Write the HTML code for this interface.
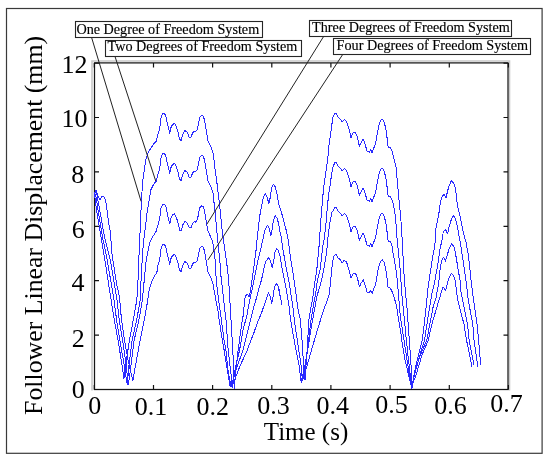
<!DOCTYPE html>
<html><head><meta charset="utf-8"><title>Follower Linear Displacement</title>
<style>
html,body{margin:0;padding:0;background:#fff;}
svg{display:block;}
text{font-family:"Liberation Serif","Times New Roman",serif;fill:#000;}
</style></head><body>
<svg width="550" height="461" viewBox="0 0 550 461">
<rect x="0" y="0" width="550" height="461" fill="#fff"/>
<rect x="6.5" y="8.5" width="535.6" height="444.8" fill="none" stroke="#3a3a3a" stroke-width="1.2"/>

<path d="M92,390.5 V61 H509.5 V390.5" fill="none" stroke="#c9c9c9" stroke-width="1.6"/>
<rect x="94.5" y="62.9" width="413.5" height="326.6" fill="none" stroke="#151515" stroke-width="1.25"/>
<path d="M94.3,389.5 v-4.5 M94.3,62.9 v4.5 M153.5,389.5 v-4.5 M153.5,62.9 v4.5 M212.6,389.5 v-4.5 M212.6,62.9 v4.5 M271.8,389.5 v-4.5 M271.8,62.9 v4.5 M330.9,389.5 v-4.5 M330.9,62.9 v4.5 M390.1,389.5 v-4.5 M390.1,62.9 v4.5 M449.3,389.5 v-4.5 M449.3,62.9 v4.5 M508.4,389.5 v-4.5 M508.4,62.9 v4.5 M94.5,389.5 h4.5 M508,389.5 h-4.5 M94.5,335.1 h4.5 M508,335.1 h-4.5 M94.5,280.7 h4.5 M508,280.7 h-4.5 M94.5,226.3 h4.5 M508,226.3 h-4.5 M94.5,171.9 h4.5 M508,171.9 h-4.5 M94.5,117.5 h4.5 M508,117.5 h-4.5 M94.5,63.1 h4.5 M508,63.1 h-4.5" stroke="#111" stroke-width="1.2" fill="none"/>
<polyline points="94.5,193.5 95.6,203.0 97.2,213.9 101.0,237.0 105.1,261.6 111.1,300.0 114.3,320.0 118.0,340.0 121.2,360.0 124.0,378.5 126.5,360.0 129.4,340.0 133.3,320.0 136.8,300.0 137.9,283.2 138.6,265.0 139.4,245.2 140.1,231.0 140.9,212.3 141.8,194.5 142.7,182.0 144.5,167.8 146.2,158.0 148.2,152.3 150.8,148.4 154.1,143.5 156.3,141.3 157.4,136.5 159.0,131.0 160.1,125.1 161.1,116.9 162.8,113.7 164.4,113.7 165.8,115.8 167.1,122.4 168.4,127.8 169.8,133.5 170.9,127.8 172.5,124.5 174.5,123.4 176.3,126.7 178.0,132.1 179.6,139.7 181.2,140.2 182.8,134.3 185.0,130.5 187.2,132.4 189.3,137.5 191.0,137.0 192.6,133.2 194.2,131.0 195.3,131.6 196.9,130.0 198.0,126.1 199.1,120.2 200.2,116.4 201.8,115.3 203.4,116.4 204.5,120.2 205.6,126.7 206.7,133.2 207.8,140.2 209.4,143.5 211.0,147.3 212.7,151.6 213.4,155.0 214.3,163.0 215.6,173.4 216.9,182.6 218.2,193.0 219.1,200.8 219.9,208.0 220.6,214.0 221.4,224.5 222.7,235.0 224.0,244.0 225.3,253.2 226.4,261.0 227.7,270.4 229.0,286.0 229.9,301.7 230.6,312.1 231.0,320.0 232.8,350.0 233.6,370.0 234.2,388.5 235.5,375.0 237.5,355.0 239.5,340.0 241.5,325.0 243.1,316.0 243.8,309.0 244.5,302.0 245.1,297.7 246.4,294.6 247.7,294.6 249.0,296.8 249.9,293.3 250.7,289.0 251.6,283.0 252.5,276.0 253.8,268.0 256.1,249.8 257.2,238.0 258.1,230.1 259.1,221.0 260.4,211.9 262.0,204.0 263.3,197.5 265.4,193.6 266.9,196.2 268.9,204.0 270.2,197.5 271.5,188.4 273.2,184.3 275.0,186.5 276.7,192.3 278.0,200.1 279.3,206.0 281.0,211.2 282.6,216.4 284.1,222.3 285.8,228.8 286.7,232.0 288.2,240.4 290.8,259.5 293.4,275.1 296.0,294.2 298.1,310.0 300.4,320.0 302.0,340.0 303.3,360.0 304.3,372.0 305.0,380.0 306.0,365.0 307.5,345.0 308.8,320.0 310.5,310.0 312.4,300.4 314.8,282.0 316.8,270.0 317.6,260.8 319.1,245.6 320.6,222.8 321.9,207.8 322.9,195.6 324.0,185.0 325.9,171.5 327.8,158.5 328.9,145.6 330.4,135.0 331.9,124.3 333.1,116.7 334.7,113.7 336.5,114.0 338.3,117.5 340.3,119.0 342.2,122.0 344.4,119.5 346.6,121.5 348.8,128.4 351.0,137.5 353.2,132.6 355.2,132.2 357.3,136.5 359.4,146.3 361.2,142.2 363.2,139.2 365.0,144.0 367.2,151.5 369.2,152.2 370.7,149.8 372.2,152.8 373.8,148.0 375.5,144.1 377.0,135.0 378.6,126.6 380.5,120.5 382.1,119.0 383.9,121.3 385.7,128.1 386.9,136.5 388.1,147.1 390.0,147.1 391.8,150.2 393.8,157.8 395.3,163.8 396.2,168.2 397.2,180.4 398.3,192.6 399.5,204.7 400.5,215.0 401.3,225.2 402.2,240.4 403.0,255.6 403.8,270.8 404.8,285.2 407.0,308.0 409.3,340.0 411.0,365.0 412.0,388.5 414.5,372.0 418.5,355.0 422.2,340.0 423.8,327.8 426.0,308.0 428.0,287.8 430.3,272.6 432.6,257.4 434.9,245.2 435.6,230.8 437.2,221.7 439.0,212.6 440.5,201.9 441.7,197.4 444.0,194.3 446.0,198.1 447.5,191.3 449.3,185.2 451.6,180.3 453.9,183.7 455.4,188.2 456.2,194.3 457.2,203.4 458.4,209.5 460.0,215.6 461.5,223.2 463.0,230.8 464.5,236.9 466.0,242.2 468.3,254.3 469.8,268.0 471.4,283.2 472.9,295.3 473.6,300.0 477.1,324.7 478.6,340.0 480.7,365.4" fill="none" stroke="#2a2aff" stroke-width="1" stroke-linejoin="round" shape-rendering="crispEdges"/>
<polyline points="94.5,192.5 96.0,197.0 98.7,213.9 102.5,237.0 107.5,261.6 114.0,300.0 116.6,320.0 119.8,340.0 123.3,360.0 127.3,384.5 129.0,365.0 132.1,340.0 136.7,320.0 140.2,300.0 140.9,283.2 141.7,268.0 143.2,245.2 144.7,232.0 146.2,220.0 147.1,212.3 149.8,196.3 150.7,190.0 154.1,183.5 156.3,181.3 157.4,176.5 159.0,171.0 160.1,165.1 161.1,156.9 162.8,153.7 164.4,153.7 165.8,155.8 167.1,162.4 168.4,167.8 169.8,173.5 170.9,167.8 172.5,164.5 174.5,163.4 176.3,166.7 178.0,172.1 179.6,179.7 181.2,180.2 182.8,174.3 185.0,170.5 187.2,172.4 189.3,177.5 191.0,177.0 192.6,173.2 194.2,171.0 195.3,171.6 196.9,170.0 198.0,166.1 199.1,160.2 200.2,156.4 201.8,155.3 203.4,156.4 204.5,160.2 205.6,166.7 206.7,173.2 207.8,180.2 209.4,183.5 211.0,187.3 212.7,191.6 213.4,195.0 213.6,199.5 214.5,206.0 215.2,212.8 216.2,224.5 217.5,237.6 218.8,250.6 219.9,261.0 220.6,273.0 222.1,286.0 224.0,303.0 225.3,314.7 226.0,320.0 228.2,350.0 230.5,370.0 232.5,387.5 235.0,370.0 239.6,350.0 243.0,330.0 246.8,316.0 249.4,302.0 251.5,292.0 253.5,283.0 256.0,270.0 258.5,258.0 261.0,248.0 263.2,238.0 264.5,232.0 265.3,229.1 267.4,225.2 268.9,227.8 270.9,235.6 272.2,229.1 273.5,220.0 275.2,215.9 277.0,218.1 278.7,223.9 280.0,231.7 281.3,237.6 282.6,247.4 285.6,264.7 289.1,282.1 291.7,299.4 293.4,310.0 294.3,320.0 298.0,345.0 301.0,365.0 302.5,381.0 305.0,368.0 308.0,345.0 311.0,320.0 313.5,305.0 315.5,295.0 317.4,280.0 320.0,270.0 321.5,258.0 323.0,245.0 324.4,238.0 325.5,228.0 326.5,218.0 327.3,207.8 328.5,195.6 330.1,185.0 331.6,174.3 333.1,166.7 334.7,162.7 336.5,163.0 338.3,166.5 340.3,168.0 342.2,171.0 344.4,168.5 346.6,170.5 348.8,177.4 351.0,186.5 353.2,181.6 355.2,181.2 357.3,185.5 359.4,195.3 361.2,191.2 363.2,188.2 365.0,193.0 367.2,200.5 369.2,201.2 370.7,198.8 372.2,201.8 373.8,197.0 375.5,193.1 377.0,184.0 378.6,175.6 380.5,169.5 382.1,168.0 383.9,170.3 385.7,177.1 386.9,185.5 388.1,196.1 390.0,196.1 391.8,199.2 393.4,204.7 395.0,213.8 395.7,220.0 397.2,240.4 398.8,255.6 400.3,270.8 401.7,292.8 404.0,315.6 406.3,340.0 408.5,360.0 411.8,388.0 414.5,375.0 419.0,358.0 424.5,340.0 428.3,315.6 432.1,292.8 434.1,284.7 437.2,268.0 440.2,248.2 442.0,240.0 443.2,232.3 445.5,229.3 447.5,233.8 449.3,226.2 451.1,220.2 453.1,215.6 455.1,217.9 456.6,223.2 458.1,230.8 459.2,236.9 460.7,245.2 463.0,260.4 465.3,275.6 467.2,290.8 468.3,300.0 472.8,324.7 474.0,340.0 477.8,366.6" fill="none" stroke="#2a2aff" stroke-width="1" stroke-linejoin="round" shape-rendering="crispEdges"/>
<polyline points="94.8,192.0 96.2,191.0 97.5,198.0 100.4,213.9 104.5,237.0 110.6,261.6 117.1,300.0 119.2,320.0 122.5,340.0 125.5,360.0 128.4,385.0 131.0,365.0 134.2,340.0 138.9,320.0 142.4,300.0 143.2,290.8 144.7,275.6 146.2,260.4 148.5,248.2 150.0,242.2 153.1,236.1 156.1,231.5 157.4,227.0 159.0,221.5 160.1,215.6 161.1,207.4 162.8,204.2 164.4,204.2 165.8,206.3 167.1,212.9 168.4,218.3 169.8,224.0 170.9,218.3 172.5,215.0 174.5,213.9 176.3,217.2 178.0,222.6 179.6,230.2 181.2,230.7 182.8,224.8 185.0,221.0 187.2,222.9 189.3,228.0 191.0,227.5 192.6,223.7 194.2,221.5 195.3,222.1 196.9,220.5 198.0,216.6 199.1,210.7 200.2,206.9 201.8,205.8 203.4,206.9 204.5,210.7 205.6,217.2 206.7,223.7 207.8,230.7 209.4,234.0 211.0,237.8 212.7,242.1 213.4,245.5 214.3,253.2 215.3,261.0 215.8,273.0 216.9,286.0 218.8,301.7 220.8,314.7 221.4,320.0 224.0,340.0 225.9,350.0 228.0,370.0 231.0,387.0 236.0,370.0 243.0,350.0 247.4,332.0 251.6,316.0 254.0,306.0 256.5,298.0 259.0,288.0 261.5,280.0 263.7,269.5 265.5,262.0 268.8,257.6 270.3,260.2 272.3,268.0 273.6,261.5 274.9,252.4 276.6,248.3 278.4,250.5 280.1,256.3 281.4,264.1 283.0,273.4 286.5,290.8 289.1,306.4 290.6,320.0 295.0,345.0 299.0,365.0 301.2,382.2 305.0,365.0 308.5,345.0 310.8,330.0 314.0,312.0 317.0,296.0 321.7,280.0 324.5,265.0 326.5,253.0 328.2,235.0 329.5,225.0 330.5,219.8 332.0,212.2 333.1,210.7 334.7,207.7 336.5,208.0 338.3,211.5 340.3,213.0 342.2,216.0 344.4,213.5 346.6,215.5 348.8,222.4 351.0,231.5 353.2,226.6 355.2,226.2 357.3,230.5 359.4,240.3 361.2,236.2 363.2,233.2 365.0,238.0 367.2,245.5 369.2,246.2 370.7,243.8 372.2,246.8 373.8,242.0 375.5,238.1 377.0,229.0 378.6,220.6 380.5,214.5 382.1,213.0 383.9,215.3 385.7,222.1 386.9,230.5 388.1,241.1 390.0,241.1 391.8,244.2 392.7,251.0 394.2,258.6 395.7,267.8 397.2,280.0 398.5,295.0 400.2,315.6 403.2,335.3 404.0,340.0 407.0,360.0 411.5,387.5 415.0,372.0 420.0,356.0 426.8,340.0 430.6,320.2 433.5,305.0 435.6,300.0 438.7,283.2 440.2,268.0 441.7,260.4 443.5,257.4 445.5,261.2 447.5,254.3 449.3,248.2 451.6,243.7 453.9,246.7 455.4,252.8 456.9,261.9 458.4,271.0 460.0,280.2 460.6,290.0 462.7,300.0 467.6,324.7 469.1,340.0 474.0,365.0" fill="none" stroke="#2a2aff" stroke-width="1" stroke-linejoin="round" shape-rendering="crispEdges"/>
<polyline points="94.3,195.0 95.3,192.0 96.2,190.2 98.0,195.7 100.0,200.0 101.6,197.0 103.0,196.0 104.7,197.7 105.8,202.2 106.6,206.8 107.6,214.0 108.5,222.0 110.2,230.6 111.3,245.0 112.0,253.9 114.6,271.3 117.2,286.9 118.9,293.8 119.8,300.8 121.5,320.0 124.5,340.0 128.0,360.0 132.8,380.7 136.5,360.0 140.2,340.0 144.3,320.0 147.8,300.0 149.3,289.3 151.6,281.7 153.8,277.1 156.9,272.6 157.4,267.5 159.0,262.0 160.1,256.1 161.1,247.9 162.8,244.7 164.4,244.7 165.8,246.8 167.1,253.4 168.4,258.8 169.8,264.5 170.9,258.8 172.5,255.5 174.5,254.4 176.3,257.7 178.0,263.1 179.6,270.7 181.2,271.2 182.8,265.3 185.0,261.5 187.2,263.4 189.3,268.5 191.0,268.0 192.6,264.2 194.2,262.0 195.3,262.6 196.9,261.0 198.0,257.1 199.1,251.2 200.2,247.4 201.8,246.3 203.4,247.4 204.5,251.2 205.6,257.7 206.7,264.2 207.8,271.2 209.4,274.5 211.0,278.3 212.7,282.6 213.4,286.0 214.3,291.3 216.2,301.7 218.2,312.1 219.2,320.0 221.5,335.0 224.1,350.0 226.5,365.0 230.0,386.0 234.6,380.0 240.0,366.0 247.3,350.0 251.0,340.0 254.2,332.0 257.3,322.8 261.8,312.2 264.9,303.0 268.3,292.8 269.8,295.4 271.8,303.2 273.1,296.7 274.4,287.6 276.1,283.5 277.9,285.7 279.6,291.5 278.7,289.0 280.8,299.4 282.2,305.4" fill="none" stroke="#2a2aff" stroke-width="1" stroke-linejoin="round" shape-rendering="crispEdges"/>
<polyline points="301.5,382.5 304.6,374.2 313.0,345.0 317.4,330.0 323.0,312.0 329.3,294.5 330.2,285.0 331.4,272.8 332.5,262.2 334.0,256.1 336.0,253.8 336.5,254.7 338.3,258.2 340.3,259.7 342.2,262.7 344.4,260.2 346.6,262.2 348.8,269.1 351.0,278.2 353.2,273.3 355.2,272.9 357.3,277.2 359.4,287.0 361.2,282.9 363.2,279.9 365.0,284.7 367.2,292.2 369.2,292.9 370.7,290.5 372.2,293.5 373.8,288.7 375.5,284.8 377.0,275.7 378.6,267.3 380.5,261.2 382.1,259.7 383.9,262.0 385.7,268.8 386.9,277.2 388.1,287.8 390.0,287.8 391.8,290.9 392.6,292.8 394.1,297.4 396.4,305.0 398.7,320.2 401.0,333.8 401.7,340.0 405.0,360.0 411.5,387.0 416.0,375.0 422.0,355.0 428.3,340.0 432.1,323.2 436.7,308.0 439.0,300.0 440.2,296.0 441.7,290.8 443.2,287.0 445.5,290.8 447.5,283.2 449.3,277.1 451.6,273.3 453.9,276.4 455.4,281.7 456.3,290.0 457.7,300.0 464.1,324.7 466.5,340.0 472.1,367.3" fill="none" stroke="#2a2aff" stroke-width="1" stroke-linejoin="round" shape-rendering="crispEdges"/>
<path d="M91.6,37.5 L141.1,201.4 M115,56.5 L155.8,181.2 M323.6,36.5 L206.8,224.3 M342.7,54.5 L207.9,260" stroke="#222" stroke-width="1" fill="none"/>
<rect x="75.5" y="21.5" width="187" height="16" fill="#fff" stroke="#262626" stroke-width="1.1"/>
<text x="76.4" y="33.6" font-size="14.2" stroke="#000" stroke-width="0.15">One Degree of Freedom System</text>
<rect x="105.5" y="40.5" width="196" height="16" fill="#fff" stroke="#262626" stroke-width="1.1"/>
<text x="107.5" y="51.0" font-size="14.2" stroke="#000" stroke-width="0.15">Two Degrees of Freedom System</text>
<rect x="309.5" y="20.5" width="202" height="16" fill="#fff" stroke="#262626" stroke-width="1.1"/>
<text x="312.1" y="31.9" font-size="14.2" stroke="#000" stroke-width="0.15">Three Degrees of Freedom System</text>
<rect x="333.5" y="38.5" width="197" height="16" fill="#fff" stroke="#262626" stroke-width="1.1"/>
<text x="336.6" y="49.5" font-size="14.2" stroke="#000" stroke-width="0.15">Four Degrees of Freedom System</text>
<text x="78.2" y="398.3" font-size="26" text-anchor="middle">0</text>
<text x="78.2" y="347.2" font-size="26" text-anchor="middle">2</text>
<text x="78.0" y="290.9" font-size="26" text-anchor="middle">4</text>
<text x="78.2" y="238.3" font-size="26" text-anchor="middle">6</text>
<text x="77.8" y="183.3" font-size="26" text-anchor="middle">8</text>
<text x="74.6" y="126.6" font-size="26" text-anchor="middle">10</text>
<text x="74.4" y="72.5" font-size="26" text-anchor="middle">12</text>
<text x="94.8" y="414.4" font-size="26" text-anchor="middle">0</text>
<text x="151.0" y="414.9" font-size="26" text-anchor="middle">0.1</text>
<text x="212.7" y="414.5" font-size="26" text-anchor="middle">0.2</text>
<text x="273.6" y="414.0" font-size="26" text-anchor="middle">0.3</text>
<text x="332.8" y="414.0" font-size="26" text-anchor="middle">0.4</text>
<text x="391.6" y="413.1" font-size="26" text-anchor="middle">0.5</text>
<text x="450.6" y="413.5" font-size="26" text-anchor="middle">0.6</text>
<text x="506.5" y="411.6" font-size="26" text-anchor="middle">0.7</text>
<text x="306" y="439.6" font-size="25" text-anchor="middle">Time (s)</text>
<text transform="translate(42,225.4) rotate(-90)" x="0" y="0" font-size="25.8" text-anchor="middle">Follower Linear Displacement (mm)</text>
</svg></body></html>
